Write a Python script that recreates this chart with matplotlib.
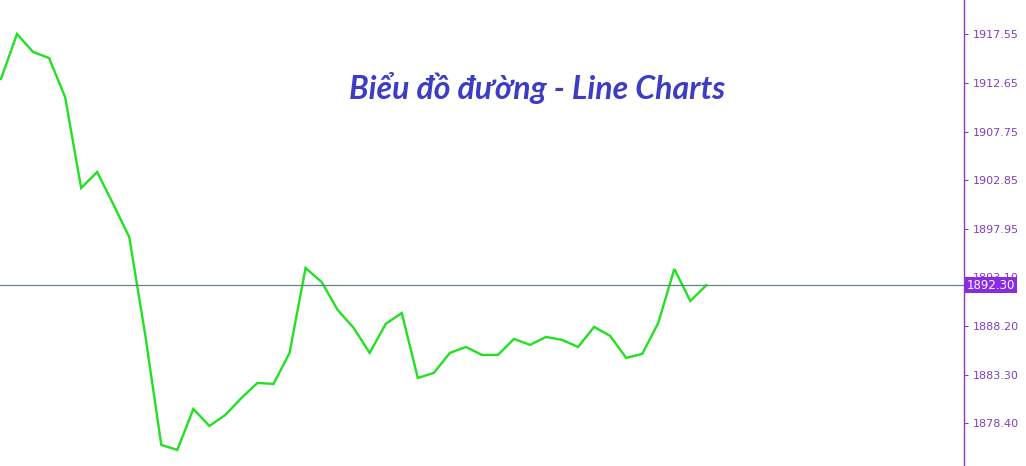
import numpy as np
import matplotlib
matplotlib.use("Agg")
import matplotlib.pyplot as plt
import matplotlib.transforms as mtrans

# price closes, one per bar
prices = [1913.05, 1917.58, 1915.77, 1915.16, 1911.24, 1902.08, 1903.69, 1900.47,
          1897.15, 1887.29, 1876.22, 1875.72, 1879.84, 1878.13, 1879.24, 1880.95,
          1882.46, 1882.36, 1885.48, 1894.03, 1892.62, 1889.81, 1887.99, 1885.48,
          1888.40, 1889.50, 1882.96, 1883.47, 1885.48, 1886.08, 1885.28, 1885.28,
          1886.89, 1886.29, 1887.09, 1886.79, 1886.08, 1888.10, 1887.19, 1884.98,
          1885.38, 1888.50, 1893.93, 1890.71, 1892.30]
current_price = 1892.30
tick_vals = [1917.55, 1912.65, 1907.75, 1902.85, 1897.95, 1893.10, 1888.20, 1883.30, 1878.40]
title = "Biểu đồ đường - Line Charts"

purple = "#7f3fbf"

fig = plt.figure(figsize=(10.26, 4.66), dpi=100)
ax = fig.add_axes([0, 0, 964 / 1026, 1])

x = np.arange(len(prices))
ax.plot(x, prices, color="#22e022", lw=1.7, solid_joinstyle="miter")
ax.axhline(current_price, color="#5f8589", lw=0.9)

ax.set_xlim(-0.06, 60.07)
ax.set_ylim(1874.10, 1921.0)

for s in ("left", "top", "bottom"):
    ax.spines[s].set_visible(False)
ax.spines["right"].set_color(purple)
ax.spines["right"].set_linewidth(1.0)
ax.set_xticks([])
ax.yaxis.tick_right()
ax.set_yticks(tick_vals)
ax.set_yticklabels([f"{v:.2f}" for v in tick_vals])
ax.tick_params(axis="y", colors=purple, labelcolor=purple, labelsize=8,
               length=3, width=0.8, pad=3)

# current price tag on the scale
trans = mtrans.blended_transform_factory(ax.transAxes, ax.transData)
ax.text(1.003, current_price, f"{current_price:.2f}", transform=trans,
        ha="left", va="center", color="white", fontsize=8.5, zorder=5,
        bbox=dict(boxstyle="square,pad=0.12", fc="#8a2be2", ec="none"),
        clip_on=False)

fig.text(537 / 1026, 1 - 88 / 466, title, ha="center", va="center",
         fontsize=23, fontweight="bold", fontstyle="italic",
         family=["Lato", "DejaVu Sans"], color="#3c3cc4")

fig.savefig("out.png", dpi=100, facecolor="white")
